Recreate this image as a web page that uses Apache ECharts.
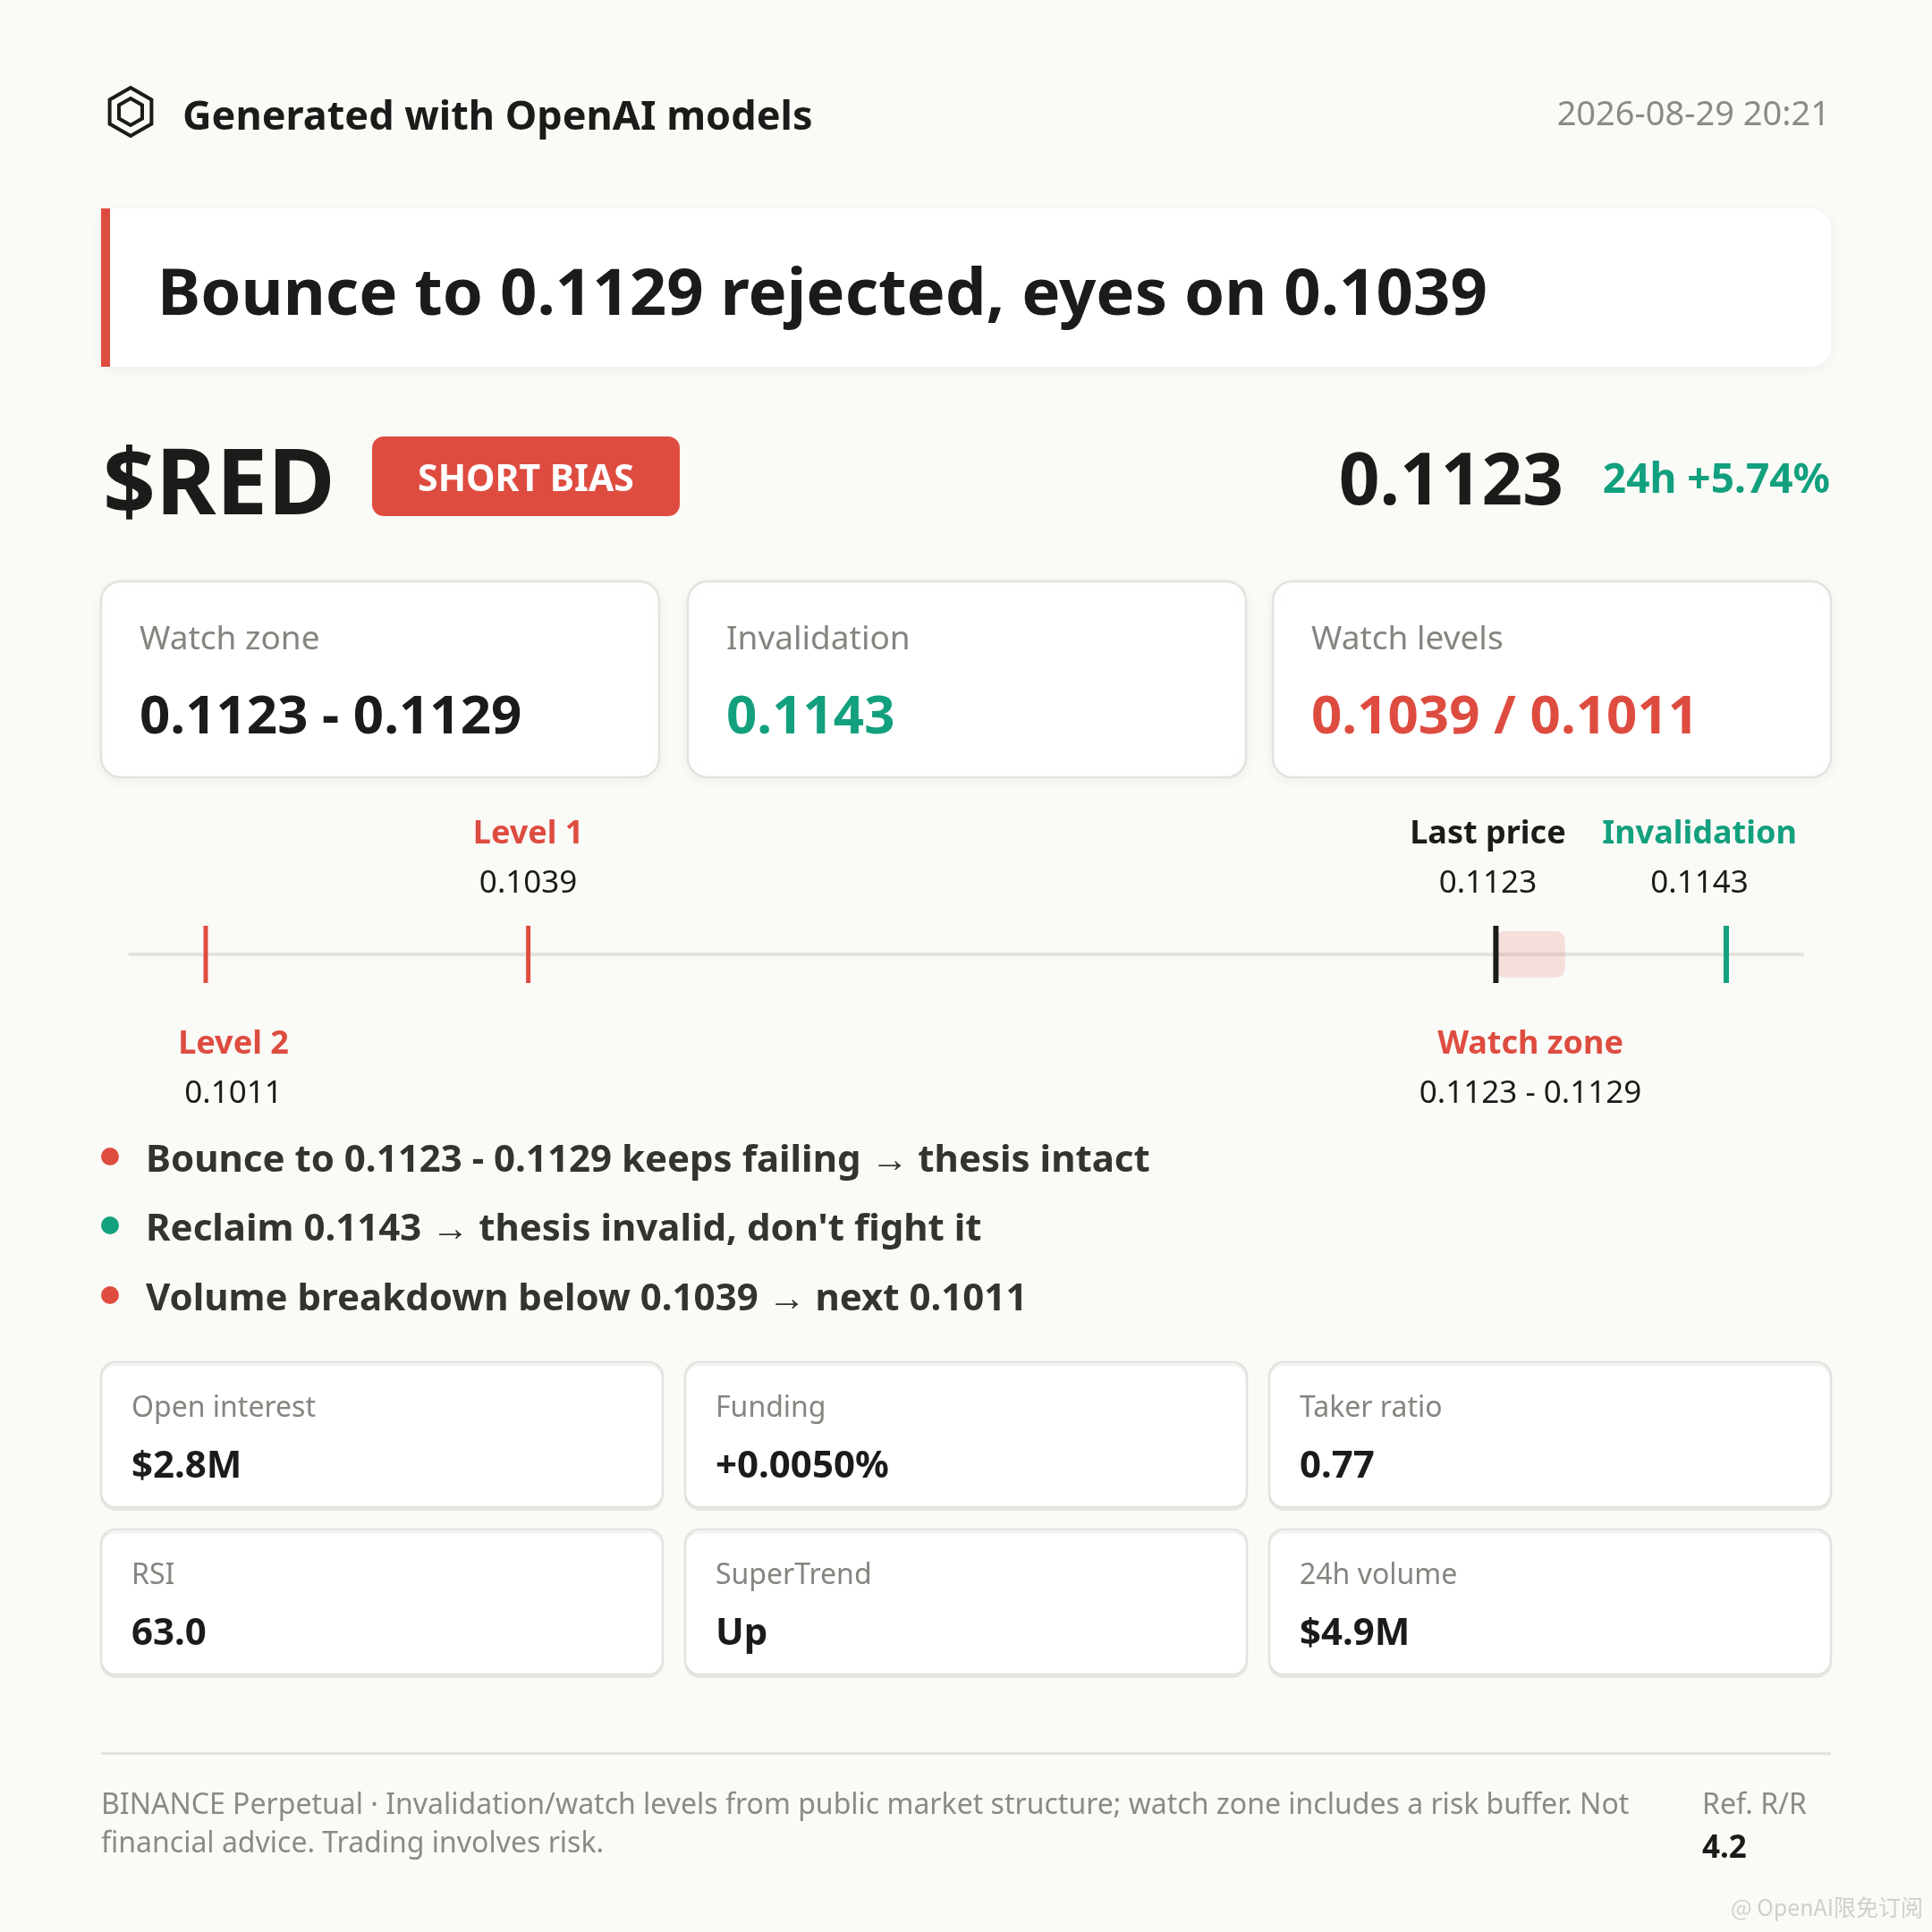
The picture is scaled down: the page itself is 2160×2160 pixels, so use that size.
<!DOCTYPE html>
<html>
<head>
<meta charset="utf-8">
<script src="https://cdn.jsdelivr.net/npm/echarts@6/dist/echarts.min.js"></script>
<style>
html,body{margin:0;padding:0;background:#FAFAF7;}
#c{width:2160px;height:2160px;}
</style>
</head>
<body>
<div id="c"></div>
<script>
// ---------- data ----------
const headerText = 'Generated with OpenAI models';
const timestamp = '2026-08-29 20:21';
const headline = 'Bounce to 0.1129 rejected, eyes on 0.1039';
const ticker = '$RED';
const biasTag = 'SHORT BIAS';
const lastPrice = 0.1123;
const change24h = '24h +5.74%';
const cardLabels = ['Watch zone', 'Invalidation', 'Watch levels'];
const cardValues = ['0.1123 - 0.1129', '0.1143', '0.1039 / 0.1011'];
const levelNames = ['Level 2', 'Level 1', 'Last price', 'Invalidation'];
const levelValues = [0.1011, 0.1039, 0.1123, 0.1143];
const zoneName = 'Watch zone';
const zoneRange = [0.1123, 0.1129];
const bullets = [
  'Bounce to 0.1123 - 0.1129 keeps failing \u2192 thesis intact',
  'Reclaim 0.1143 \u2192 thesis invalid, don\'t fight it',
  'Volume breakdown below 0.1039 \u2192 next 0.1011'
];
const statLabels = ['Open interest', 'Funding', 'Taker ratio', 'RSI', 'SuperTrend', '24h volume'];
const statValues = ['$2.8M', '+0.0050%', '0.77', '63.0', 'Up', '$4.9M'];
const footerNote = 'BINANCE Perpetual \u00b7 Invalidation/watch levels from public market structure; watch zone includes a risk buffer. Not\nfinancial advice. Trading involves risk.';
const rrLabel = 'Ref. R/R';
const rrValue = '4.2';
const watermark = '@ OpenAI\u9650\u514d\u8ba2\u9605';

// ---------- styles ----------
const BG = '#FAFAF7', INK = '#1B1B19', RED = '#DE4C40', GREEN = '#12A07E', GRAY = '#858580', BORDER = '#E3E3DE';
const FF = '"Noto Sans", "Open Sans", sans-serif';
const levelColors = [RED, RED, INK, GREEN];
const levelSide = ['below', 'above', 'above', 'above'];
const levelShift = [31, 0, -9, -30];
const levelTickW = [5, 5, 6, 6];
const bulletColors = [RED, GREEN, RED];
const cardValueColors = [INK, GREEN, RED];

function txt(text, x, cy, size, weight, color, align, family) {
  return {
    type: 'text', x: x, y: cy + size * 0.07, z: 10,
    style: {
      text: text, fontSize: size, fontWeight: weight, fontFamily: family || FF, fill: color,
      align: align || 'left', verticalAlign: 'middle'
    }
  };
}
function card(x, y, w, h, r, shadow) {
  return {
    type: 'rect', z: 1,
    shape: { x: x, y: y, width: w, height: h, r: r },
    style: {
      fill: '#FFFFFF', stroke: BORDER, lineWidth: 2.5,
      shadowBlur: shadow ? 14 : 0, shadowColor: 'rgba(0,0,0,0.05)', shadowOffsetY: 3
    }
  };
}
function hexPoints(cx, cy, R) {
  const pts = [];
  for (let i = 0; i < 6; i++) {
    const a = -Math.PI / 2 + i * Math.PI / 3;
    pts.push([cx + R * Math.cos(a), cy + R * Math.sin(a)]);
  }
  return pts;
}

const graphic = [];
// header
graphic.push({ type: 'polygon', z: 10, shape: { points: hexPoints(146, 125, 27) }, style: { fill: 'none', stroke: INK, lineWidth: 4 } });
graphic.push({ type: 'polygon', z: 10, shape: { points: hexPoints(146, 125, 15) }, style: { fill: 'none', stroke: INK, lineWidth: 4 } });
graphic.push(txt(headerText, 204, 129, 45, 'bold', INK));
graphic.push(txt(timestamp, 2046, 127, 38, 'normal', '#8A8A86', 'right'));

// headline card
graphic.push({
  type: 'rect', z: 1, shape: { x: 113, y: 233, width: 1934, height: 177, r: [0, 22, 22, 0] },
  style: { fill: '#FFFFFF', shadowBlur: 16, shadowColor: 'rgba(0,0,0,0.05)', shadowOffsetY: 3 }
});
graphic.push({ type: 'rect', z: 2, shape: { x: 113, y: 233, width: 10, height: 177 }, style: { fill: RED } });
graphic.push(txt(headline, 176, 326, 72.5, 'bold', INK));

// ticker row
graphic.push(txt(ticker, 115, 538, 103, 'bold', INK));
graphic.push({ type: 'rect', z: 2, shape: { x: 416, y: 488, width: 344, height: 89, r: 13 }, style: { fill: RED } });
graphic.push(txt(biasTag, 588, 534, 41, 'bold', '#FFFFFF', 'center'));
graphic.push(txt(lastPrice.toFixed(4), 1748, 536, 80, 'bold', INK, 'right'));
graphic.push(txt(change24h, 2046, 535, 46, 'bold', GREEN, 'right'));

// level cards
const topCardX = [113, 769, 1423];
for (let i = 0; i < 3; i++) {
  graphic.push(card(topCardX[i], 650, 624, 219, 22, true));
  graphic.push(txt(cardLabels[i], topCardX[i] + 43, 713, 37, 'normal', GRAY));
  graphic.push(txt(cardValues[i], topCardX[i] + 43, 799, 60, 'bold', cardValueColors[i]));
}

// bullets
const bulletY = [1295, 1372, 1450];
for (let i = 0; i < bullets.length; i++) {
  graphic.push({ type: 'circle', z: 10, shape: { cx: 123, cy: bulletY[i] - 2, r: 10 }, style: { fill: bulletColors[i] } });
  graphic.push(txt(bullets[i], 163, bulletY[i], 42, 'bold', '#333330'));
}

// stats cards
const statX = [113, 766, 1419], statY = [1523, 1710];
for (let i = 0; i < statLabels.length; i++) {
  const x = statX[i % 3], y = statY[Math.floor(i / 3)];
  graphic.push(card(x, y, 628, 162, 16, false));
  graphic.push(txt(statLabels[i], x + 34, y + 50, 32, 'normal', GRAY));
  graphic.push(txt(statValues[i], x + 34, y + 114, 42, 'bold', INK));
}

// footer
graphic.push({ type: 'rect', z: 2, shape: { x: 113, y: 1959, width: 1934, height: 3 }, style: { fill: BORDER } });
graphic.push({
  type: 'text', x: 113, y: 2040, z: 10,
  style: { text: footerNote, fontSize: 32, fontFamily: FF, fill: '#8A8A86', lineHeight: 43, align: 'left', verticalAlign: 'middle' }
});
graphic.push(txt(rrLabel, 1903, 2017, 32, 'normal', '#8A8A86'));
graphic.push(txt(rrValue, 1903, 2065, 35, 'bold', INK));
graphic.push(txt(watermark, 2150, 2131, 25, 'normal', '#CFCFCB', 'right', '"Noto Sans CJK SC", "Noto Sans", sans-serif'));

// ---------- number line ----------
const lo = Math.min.apply(null, levelValues), hi = Math.max.apply(null, levelValues);
const pad = (hi - lo) * 0.05;
const levelData = levelValues.map(function (v, i) { return [v, i]; });

const option = {
  backgroundColor: BG,
  animation: false,
  graphic: graphic,
  grid: { left: 145, right: 145, top: 1035, height: 64 },
  xAxis: {
    type: 'value', min: lo - pad, max: hi + pad,
    axisLine: { show: true, onZero: true, lineStyle: { color: BORDER, width: 4 } },
    axisTick: { show: false }, axisLabel: { show: false }, splitLine: { show: false }
  },
  yAxis: { type: 'value', min: -1, max: 1, show: false, splitLine: { show: false } },
  series: [
    {
      type: 'custom', name: zoneName, z: 3,
      data: [[zoneRange[0], zoneRange[1]]],
      renderItem: function (params, api) {
        const a = api.coord([api.value(0), 0.8125]);
        const b = api.coord([api.value(1), -0.8125]);
        const cx = (a[0] + b[0]) / 2, y0 = api.coord([0, 0])[1];
        return {
          type: 'group', children: [
            { type: 'rect', shape: { x: a[0], y: a[1], width: b[0] - a[0], height: b[1] - a[1], r: 10 }, style: { fill: 'rgba(222,76,64,0.15)' } },
            { type: 'text', x: cx, y: y0 + 101, style: { text: zoneName, fontSize: 36, fontWeight: 'bold', fontFamily: FF, fill: RED, align: 'center', verticalAlign: 'middle' } },
            { type: 'text', x: cx, y: y0 + 156.5, style: { text: api.value(0).toFixed(4) + ' - ' + api.value(1).toFixed(4), fontSize: 35, fontFamily: FF, fill: INK, align: 'center', verticalAlign: 'middle' } }
          ]
        };
      }
    },
    {
      type: 'custom', name: 'levels', z: 4,
      data: levelData,
      renderItem: function (params, api) {
        const i = api.value(1);
        const v = api.value(0);
        const top = api.coord([v, 1]), bot = api.coord([v, -1]);
        const w = levelTickW[i];
        const y0 = api.coord([v, 0])[1];
        const lx = top[0] + levelShift[i];
        const above = levelSide[i] === 'above';
        const ty = above ? y0 - 137 : y0 + 98.5;
        const vy = above ? y0 - 81.5 : y0 + 154;
        return {
          type: 'group', children: [
            { type: 'rect', shape: { x: top[0] - w / 2, y: top[1], width: w, height: bot[1] - top[1] }, style: { fill: levelColors[i] } },
            { type: 'text', x: lx, y: ty + 2.5, style: { text: levelNames[i], fontSize: 36, fontWeight: 'bold', fontFamily: FF, fill: levelColors[i], align: 'center', verticalAlign: 'middle' } },
            { type: 'text', x: lx, y: vy + 2.5, style: { text: v.toFixed(4), fontSize: 35, fontFamily: FF, fill: INK, align: 'center', verticalAlign: 'middle' } }
          ]
        };
      }
    }
  ]
};

const chart = echarts.init(document.getElementById('c'), null, { width: 2160, height: 2160 });
chart.setOption(option);
</script>
</body>
</html>
